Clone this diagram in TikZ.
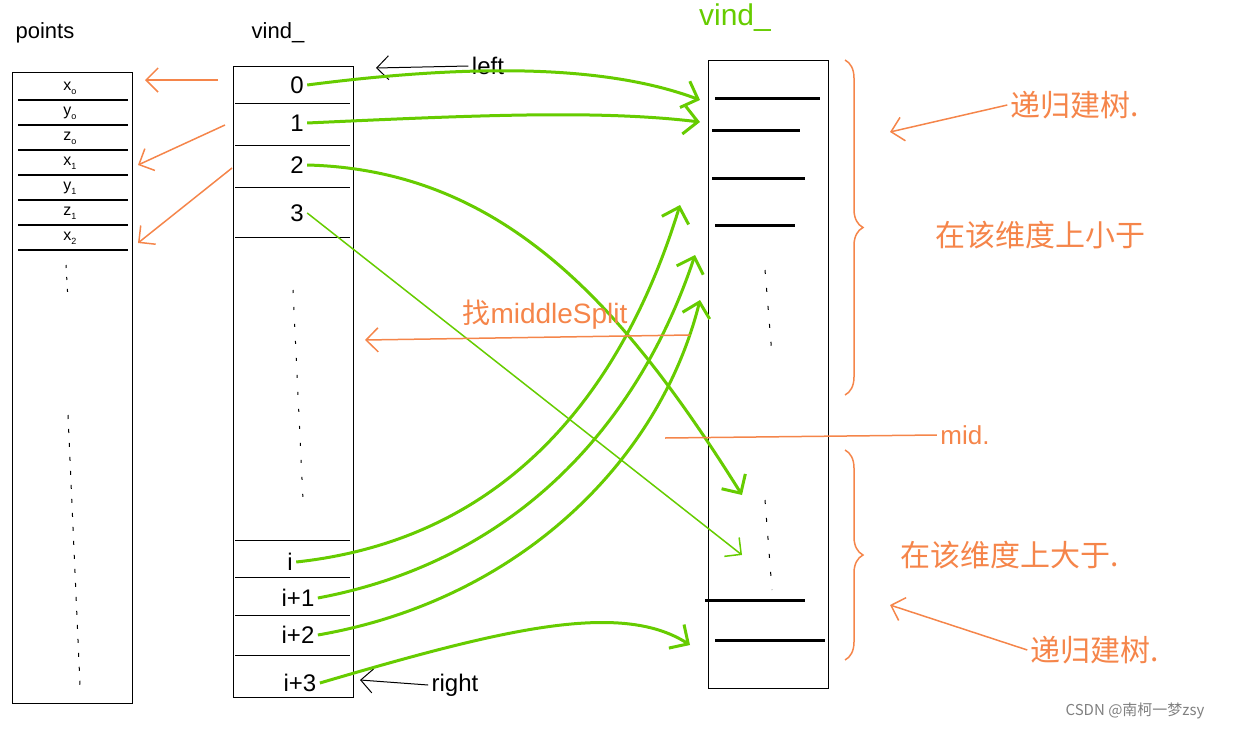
\documentclass[tikz,border=0pt]{standalone}
\usepackage{fontspec}
\setmainfont{Liberation Sans}
\newfontfamily\cjk{Noto Sans CJK SC}
\usetikzlibrary{decorations.pathreplacing,arrows.meta}
\definecolor{org}{HTML}{F5854A}
\definecolor{grn}{HTML}{66CC00}
\begin{document}
\begin{tikzpicture}[x=1pt,y=-1pt,
  box/.style={draw,line width=1pt},
  ol/.style={org,line width=1.5pt,-{Straight Barb[length=12pt]}},
  gl/.style={grn,line width=3pt,-{Straight Barb[length=14pt]}},
  gt/.style={grn,line width=1.5pt,-{Straight Barb[length=12pt]}},
  cell/.style={font=\fontsize{24}{26}\selectfont},
  small/.style={font=\fontsize{16}{18}\selectfont},
  otxt/.style={org,font=\cjk\fontsize{30}{34}\selectfont}]
\useasboundingbox (0,0) rectangle (1242,731);
% points
\node[font=\fontsize{22}{24}\selectfont] (pt) at (45,33) {points};
\draw[box] (12,72) rectangle (132,703);
\foreach \y in {100,125,150,175,200,225,250} \draw[line width=1.2pt] (18,\y) -- (128,\y);
\foreach \t/\s/\y in {x/o/88,y/o/113,z/o/138,x/1/163,y/1/188,z/1/213,x/2/238}
  \node[small,inner sep=0pt] at (70,\y) {\t\raisebox{-4pt}{\fontsize{9}{9}\selectfont\s}};
\draw[line width=1pt,dash pattern=on 3pt off 9pt] (66,265) -- (68,300);
\draw[line width=1pt,dash pattern=on 4pt off 10pt] (68,415) -- (80,685);
% vind
\node[font=\fontsize{22}{24}\selectfont] (vd) at (278,33) {vind\_};
\draw[box] (233,66) rectangle (353,697);
\foreach \y in {103,145,187,237,540,577,615,655} \draw[line width=1pt] (235,\y) -- (350,\y);
\node[cell] (c0) at (297,85) {0};
\node[cell] (c1) at (297,123) {1};
\node[cell] (c2) at (297,165) {2};
\node[cell] (c3) at (297,213) {3};
\node[cell] (ci) at (290,562) {i};
\node[cell] (ci1) at (298,598) {i+1};
\node[cell] (ci2) at (298,635) {i+2};
\node[cell] (ci3) at (300,683) {i+3};
\draw[line width=1pt,dash pattern=on 3pt off 14pt] (293,290) -- (303,500);
% left/right
\node[font=\fontsize{24}{26}\selectfont] (lf) at (488,66) {left};
\draw[line width=1pt,-{Straight Barb[length=12pt]}] (lf.west) -- (376,68);
\node[font=\fontsize{24}{26}\selectfont] (rt) at (455,685) {right};
\draw[line width=1pt,-{Straight Barb[length=12pt]}] (rt.west) -- (360,680);
% orange to points
\draw[ol] (218,80) -- (145,80);
\draw[ol] (225,125) -- (138,165);
\draw[ol] (232,168) -- (138,243);
% right box
\node[grn,font=\fontsize{30}{32}\selectfont] (vr) at (735,18) {vind\_};
\draw[box] (708,60) rectangle (828,688);
\foreach \a/\b/\y in {715/820/98,712/800/130,712/805/178,715/795/225,705/805/600,715/825/640}
  \draw[line width=3pt] (\a,\y) -- (\b,\y);
\draw[line width=1pt,dash pattern=on 4pt off 14pt] (765,270) -- (772,355);
\draw[line width=1pt,dash pattern=on 4pt off 14pt] (765,500) -- (772,590);
\coordinate (t0) at (700,100); \coordinate (t1) at (700,122);
\coordinate (t2) at (742,495); \coordinate (t3) at (742,555);
\coordinate (ti) at (680,205); \coordinate (ti1) at (695,255);
\coordinate (ti2) at (700,300); \coordinate (ti3) at (690,645);
\draw[gl] (c0.east) .. controls (500,60) and (620,70) .. (t0);
\draw[gl] (c1.east) .. controls (480,115) and (600,110) .. (t1);
\draw[gl] (c2.east) .. controls (500,170) and (620,300) .. (t2);
\draw[gt] (c3.east) -- (t3);
\draw[gl] (ci.east) .. controls (500,540) and (620,400) .. (ti);
\draw[gl] (ci1.east) .. controls (520,560) and (640,420) .. (ti1);
\draw[gl] (ci2.east) .. controls (520,600) and (660,460) .. (ti2);
\draw[gl] (ci3.east) .. controls (500,630) and (620,600) .. (ti3);
% middle split
\node[org,font=\fontsize{28}{30}\selectfont] (ms) at (545,315) {{\cjk 找}middleSplit};
\coordinate (msr) at (690,335);
\draw[ol] (msr) -- (365,340);
\node[org,font=\fontsize{26}{28}\selectfont] (mid) at (965,435) {mid.};
\coordinate (midl) at (665,438);
\draw[org,line width=1.5pt] (midl) -- (mid.west);
% braces
\draw[org,line width=1.5pt,decorate,decoration={brace,amplitude=18pt}] (845,60) -- (845,395);
\draw[org,line width=1.5pt,decorate,decoration={brace,amplitude=18pt}] (845,450) -- (845,660);
\node[otxt] (s1) at (1040,235) {在该维度上小于};
\node[otxt] (s2) at (1010,555) {在该维度上大于.};
\node[otxt] (r1) at (1075,105) {递归建树.};
\draw[ol] (r1.west) -- (890,132);
\node[otxt] (r2) at (1095,650) {递归建树.};
\draw[ol] (r2.west) -- (890,605);
\node[gray,font=\cjk\fontsize{15}{17}\selectfont] (wm) at (1135,711) {CSDN @南柯一梦zsy};
\end{tikzpicture}
\end{document}
